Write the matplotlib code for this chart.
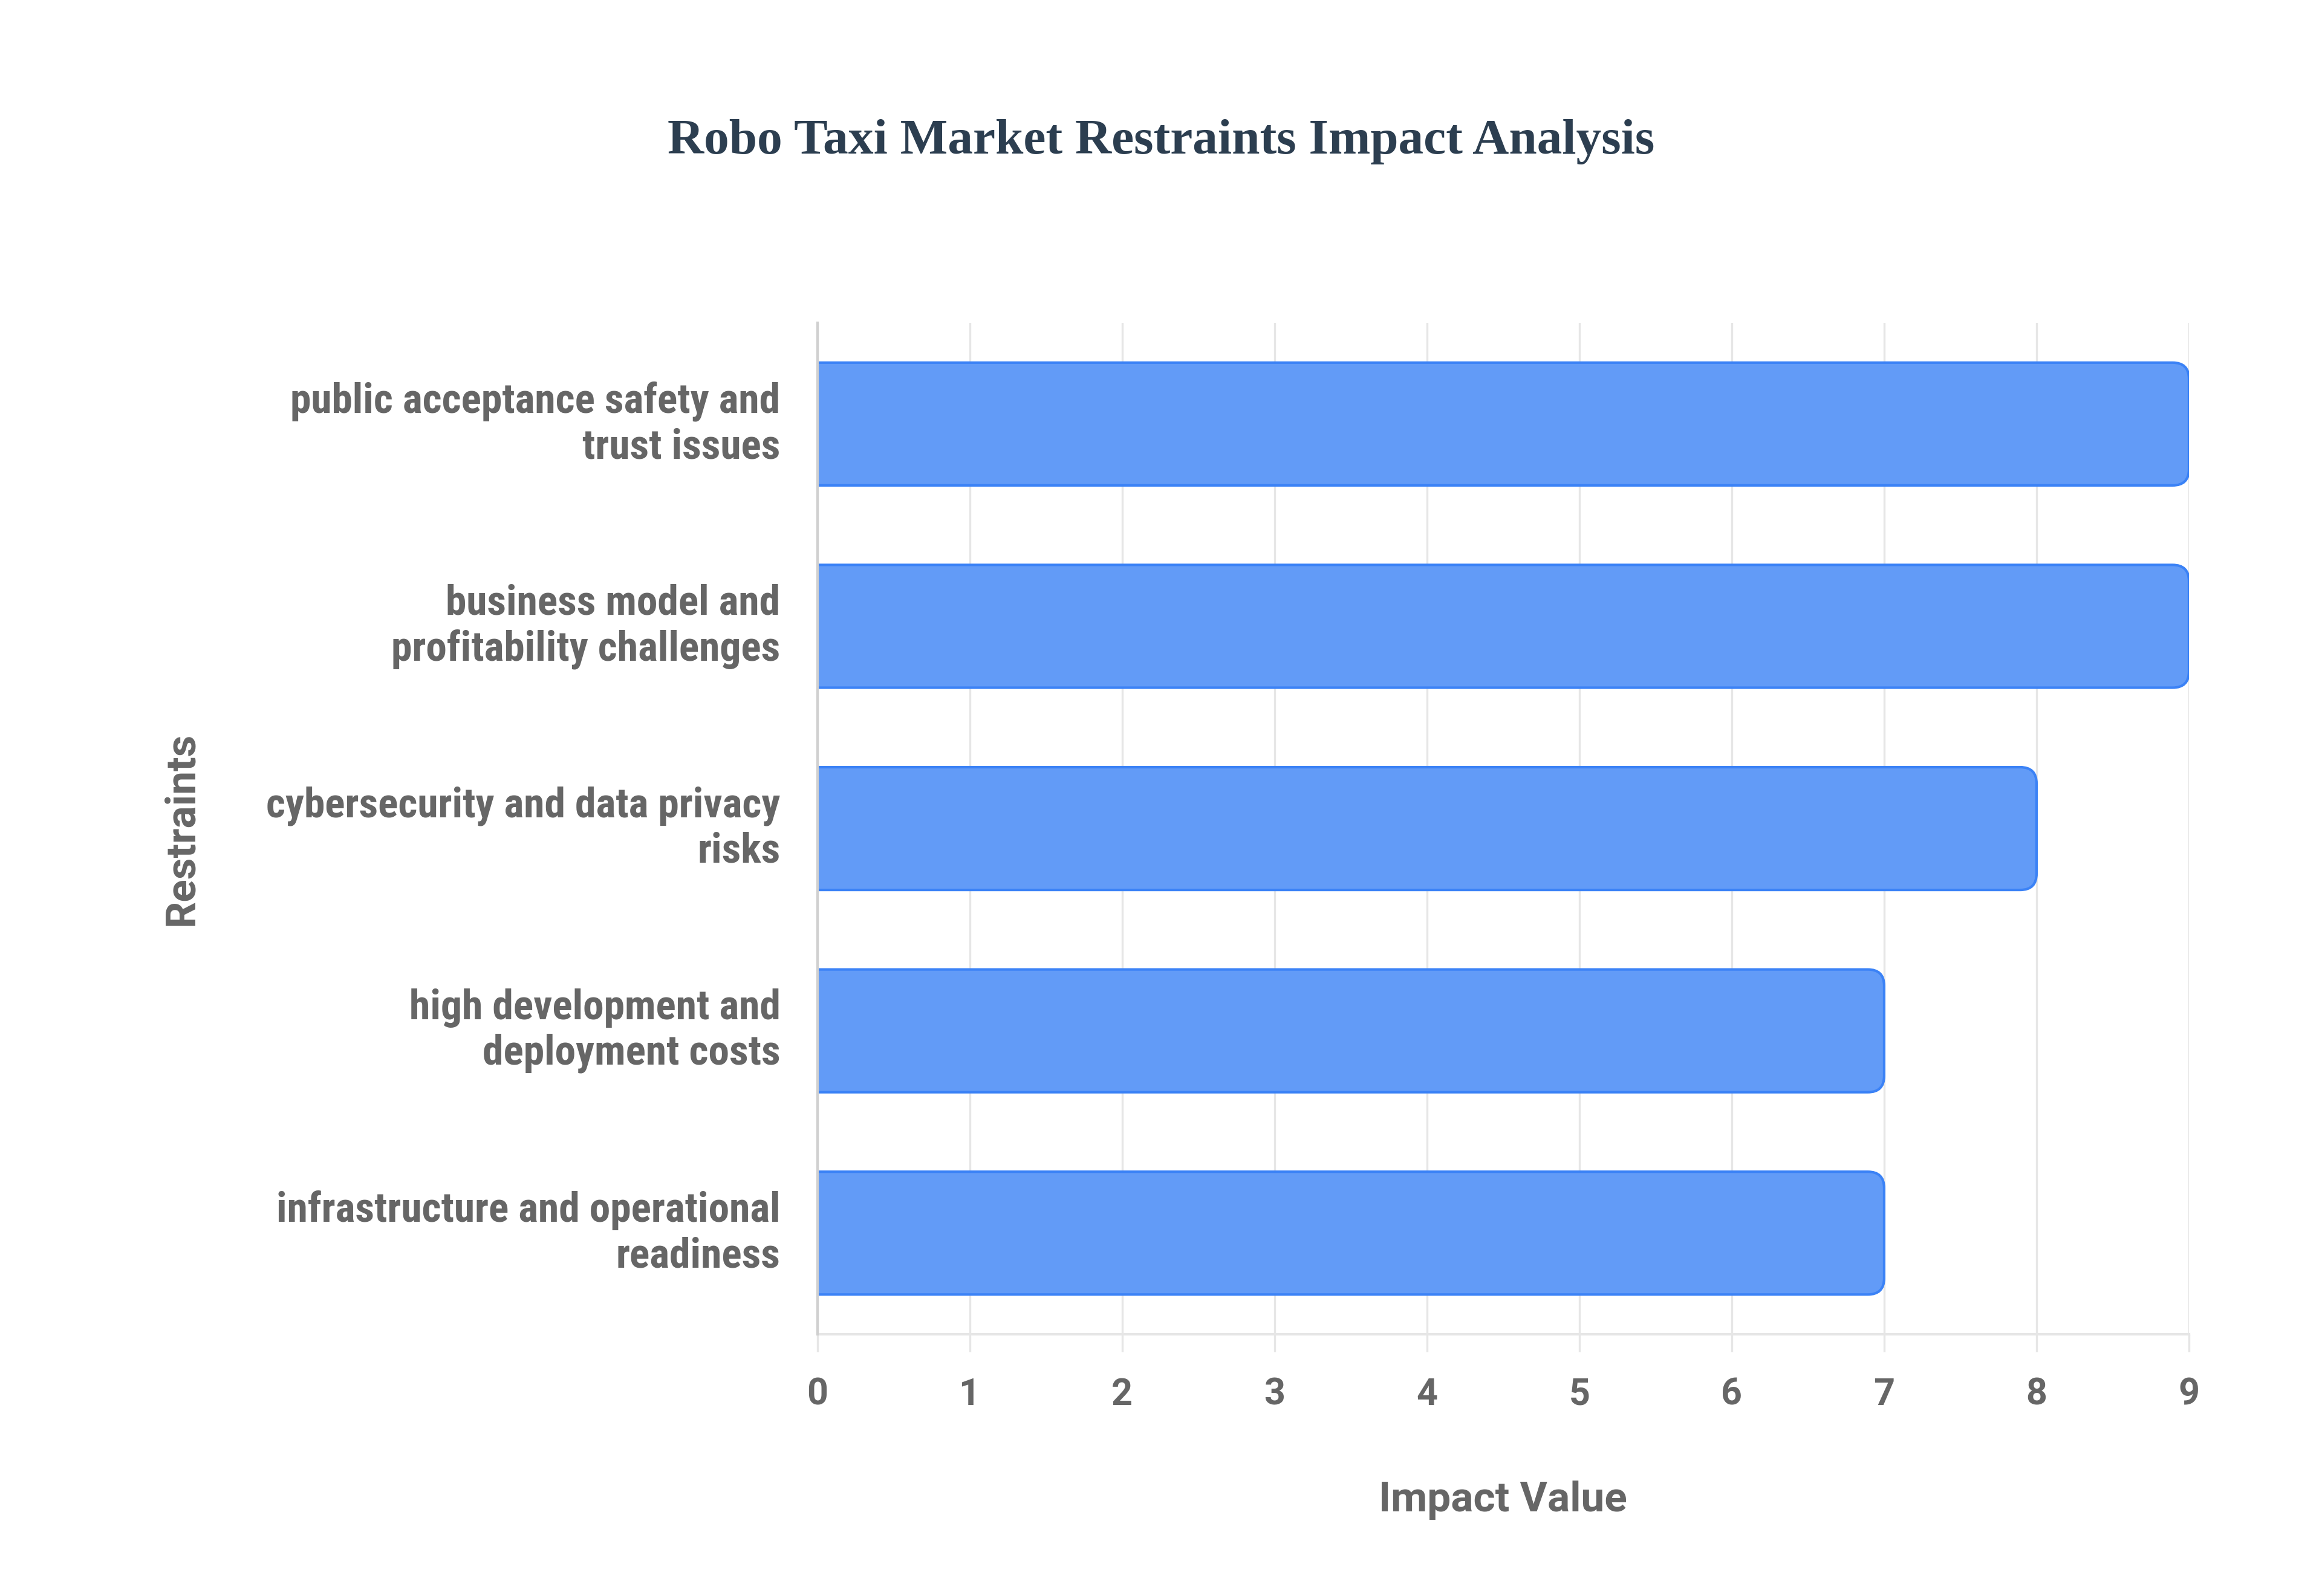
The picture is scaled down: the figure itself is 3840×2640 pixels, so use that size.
import matplotlib
matplotlib.use('Agg')
import matplotlib.pyplot as plt
from matplotlib import font_manager
from matplotlib.path import Path
from matplotlib.patches import PathPatch

# -------------------- DATA --------------------
restraints = [
    "public acceptance safety and\ntrust issues",
    "business model and\nprofitability challenges",
    "cybersecurity and data privacy\nrisks",
    "high development and\ndeployment costs",
    "infrastructure and operational\nreadiness",
]
impact = [9, 9, 8, 7, 7]
x_ticks = [0, 1, 2, 3, 4, 5, 6, 7, 8, 9]

title = "Robo Taxi Market Restraints Impact Analysis"
x_label = "Impact Value"
y_label = "Restraints"

# -------------------- FONTS --------------------
installed = {f.name for f in font_manager.fontManager.ttflist}


def pick(names):
    for n in names:
        if n in installed:
            return n
    return "DejaVu Sans"


narrow_font = pick(["Liberation Sans Narrow", "Arial Narrow", "Roboto Condensed", "Liberation Sans"])
label_font = pick(["Roboto", "Liberation Sans"])
title_font = pick(["Liberation Serif", "DejaVu Serif"])

fill_color = "#629bf7"
edge_color = "#3b82f6"
text_gray = "#666666"
grid_gray = "#e6e6e6"

# -------------------- FIGURE --------------------
fig = plt.figure(figsize=(19.2, 13.2), dpi=200)
ax = fig.add_axes([0.352, 0.164, 0.5907, 0.6337])

ypos = list(range(len(restraints)))
bars = ax.barh(ypos, impact, height=0.607, color="none", edgecolor="none")

ax.set_xlim(0, 9)
ax.set_ylim(len(restraints) - 0.5, -0.5)

# corner radius in pixels -> data units
radius_px = 27
inv = ax.transData.inverted()
p0 = inv.transform((0, 0))
p1 = inv.transform((radius_px, radius_px))
rx = abs(p1[0] - p0[0])
ry = abs(p1[1] - p0[1])

for b in bars:
    x0 = b.get_x()
    x1 = x0 + b.get_width()
    y0 = b.get_y()
    y1 = y0 + b.get_height()
    verts = [
        (x0, y0), (x1 - rx, y0), (x1, y0), (x1, y0 + ry),
        (x1, y1 - ry), (x1, y1), (x1 - rx, y1), (x0, y1), (x0, y0),
    ]
    codes = [
        Path.MOVETO, Path.LINETO, Path.CURVE3, Path.CURVE3,
        Path.LINETO, Path.CURVE3, Path.CURVE3, Path.LINETO, Path.CLOSEPOLY,
    ]
    ax.add_patch(PathPatch(Path(verts, codes), facecolor=fill_color,
                           edgecolor=edge_color, linewidth=1.5, zorder=2))

# -------------------- AXES STYLE --------------------
ax.set_xticks(x_ticks)
ax.set_xticklabels([str(t) for t in x_ticks], fontfamily=label_font,
                   fontweight="bold", fontsize=22, color=text_gray)
ax.set_yticks(ypos)
ax.set_yticklabels(restraints, fontfamily=narrow_font, fontweight="bold",
                   fontsize=25, color=text_gray, linespacing=1.2, va="center")

ax.tick_params(axis="x", length=10.5, width=1.2, color=grid_gray, pad=15)
ax.tick_params(axis="y", length=0, pad=22)

ax.grid(axis="x", color=grid_gray, linewidth=1.2, zorder=0)
ax.set_axisbelow(True)

for side in ["top", "right"]:
    ax.spines[side].set_visible(False)
ax.spines["bottom"].set_color(grid_gray)
ax.spines["bottom"].set_linewidth(1.5)
ax.spines["left"].set_color("#d0d0d0")
ax.spines["left"].set_linewidth(1.5)
ax.spines["left"].set_zorder(3)

ax.set_xlabel(x_label, fontfamily=label_font, fontweight="bold",
              fontsize=25, color=text_gray, va="center")
ax.xaxis.set_label_coords(0.5, -0.164)
ax.set_ylabel(y_label, fontfamily=label_font, fontweight="bold",
              fontsize=25, color=text_gray, va="center")
ax.yaxis.set_label_coords(-0.4634, 0.5)

fig.suptitle(title, fontfamily=title_font, fontweight="bold", fontsize=30,
             color="#2c3e50", y=0.911, va="center")

fig.savefig("out.png", dpi=200, facecolor="white")
plt.close(fig)
